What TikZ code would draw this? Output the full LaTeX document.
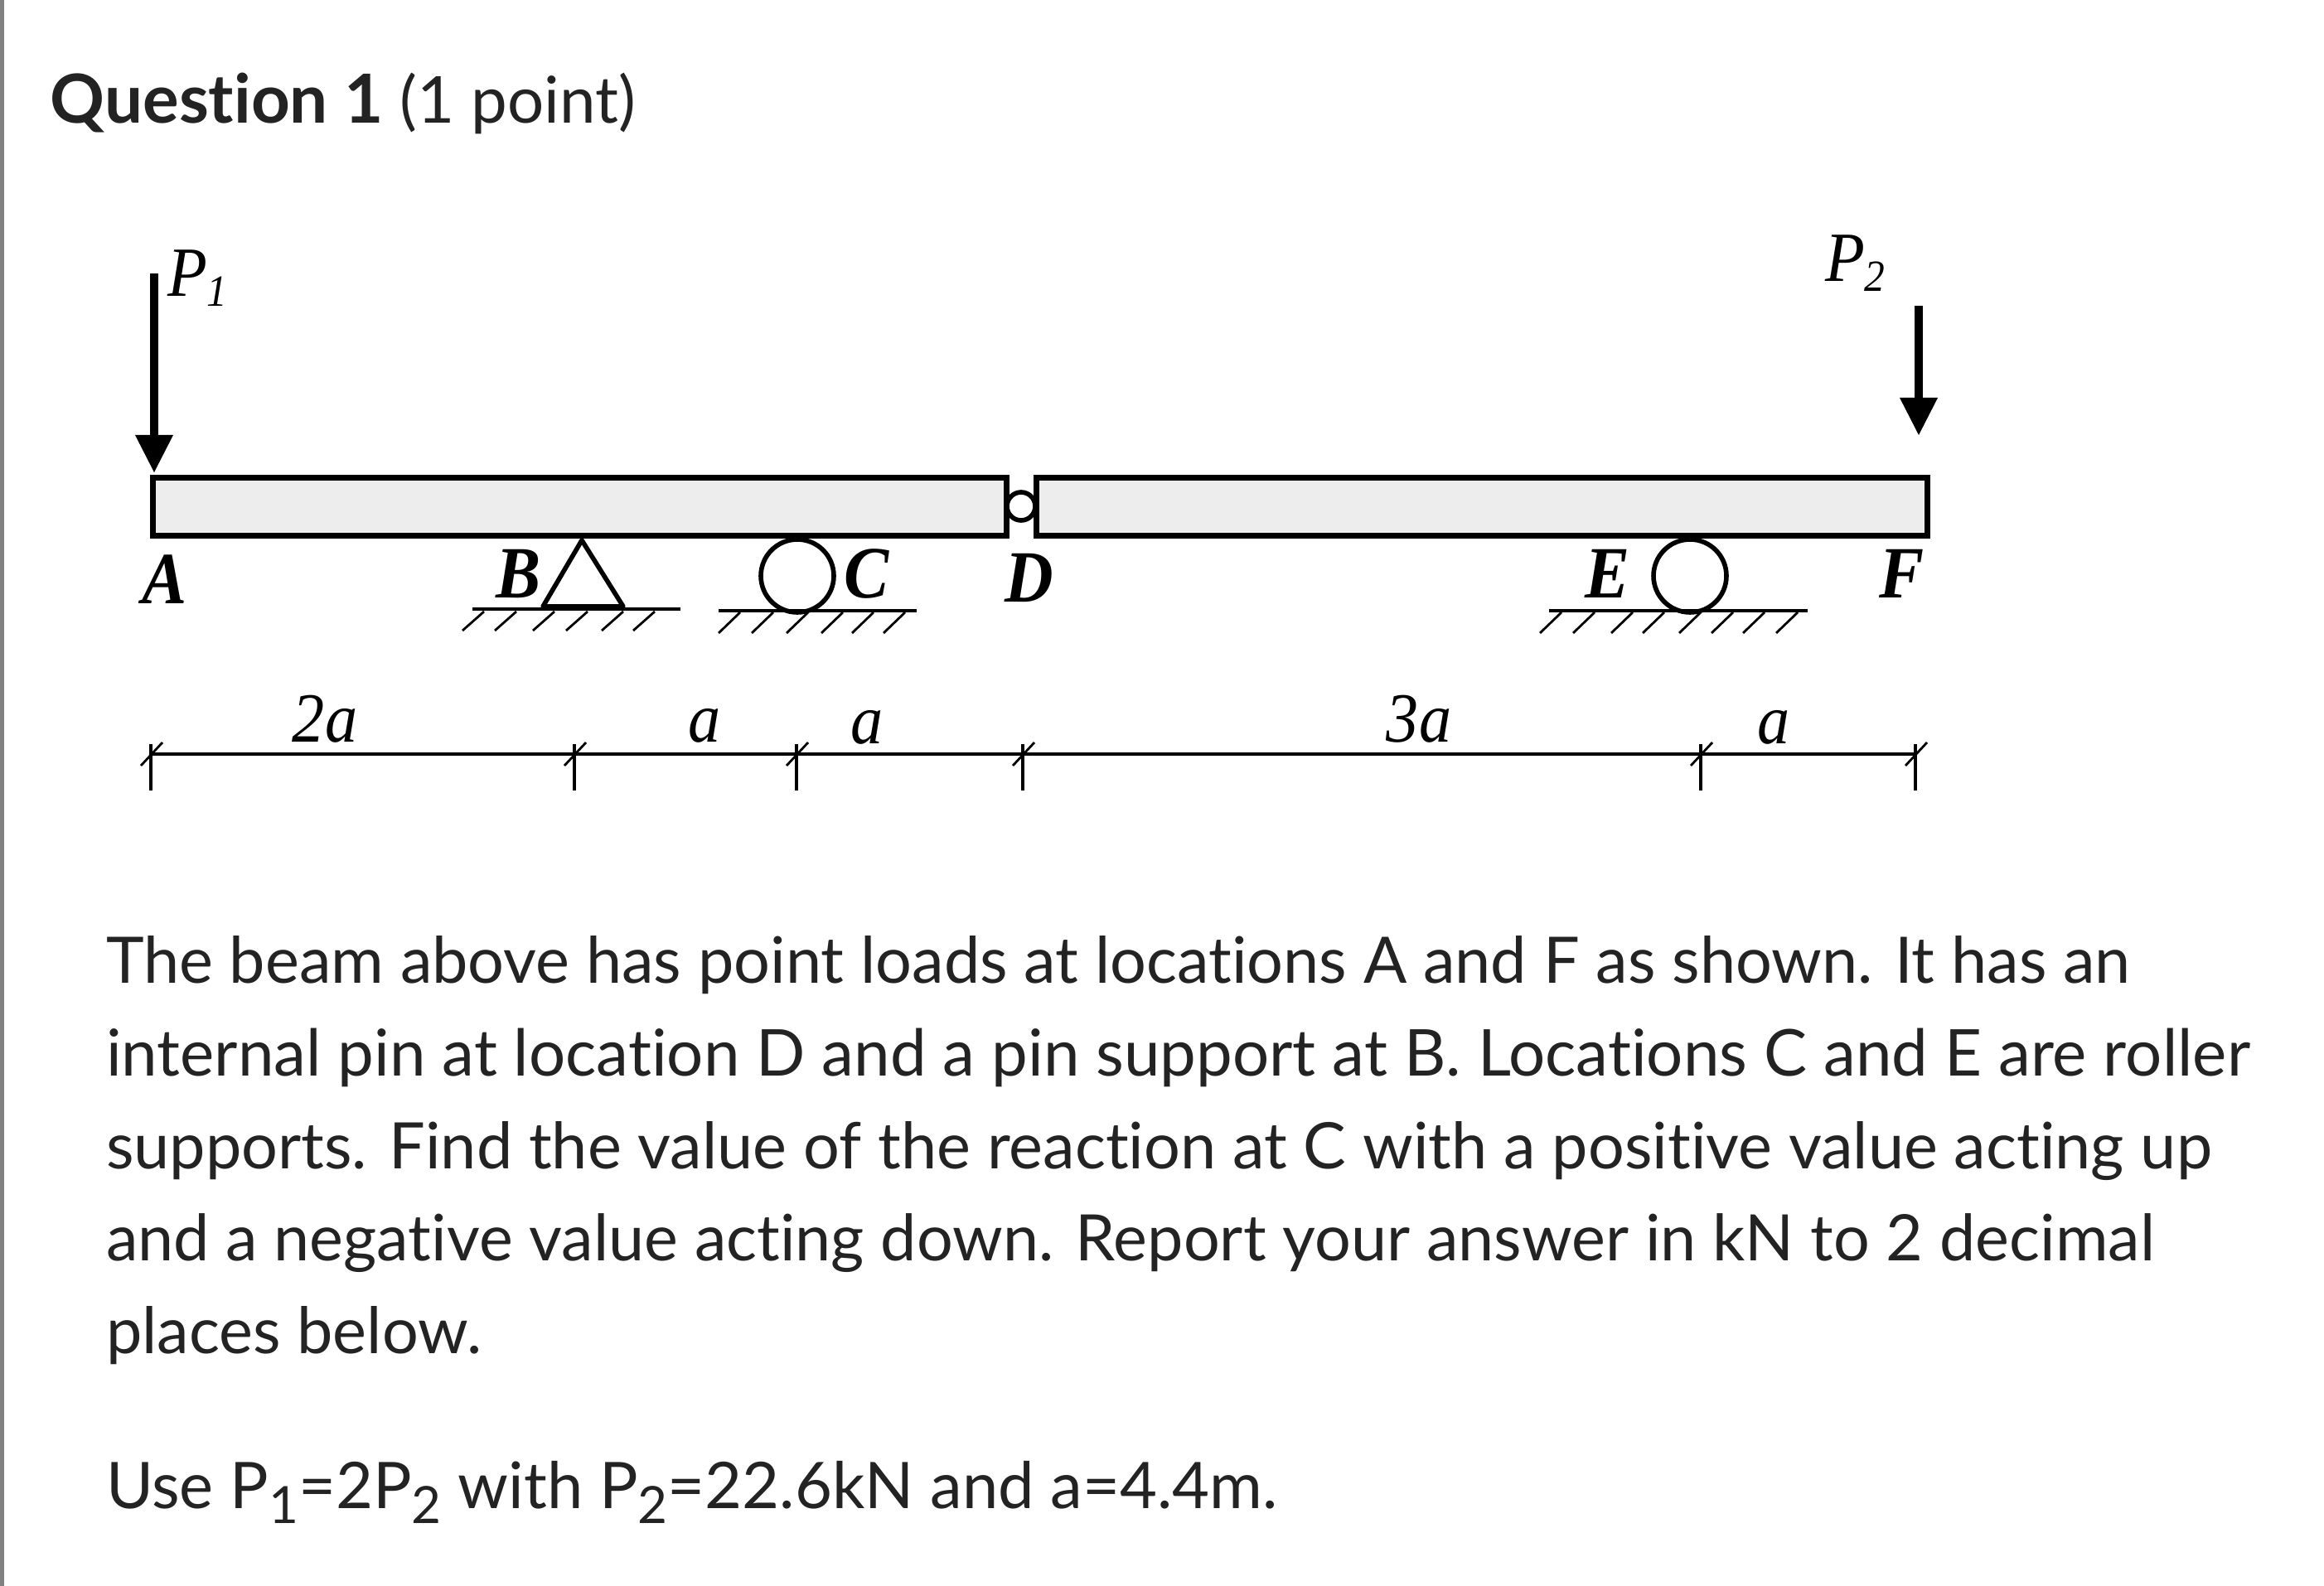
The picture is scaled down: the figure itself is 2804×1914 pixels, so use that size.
\documentclass[tikz,border=0pt]{standalone}
\usepackage{graphicx}
\usepackage{fontspec}
\setmainfont{Lato}[Ligatures=NoCommon]
\newfontfamily\figfont{Liberation Serif}
\newcommand{\tallL}[1]{\scalebox{1.04}[1.14]{#1}}
\newcommand{\tallD}[1]{\scalebox{1.03}[1.12]{#1}}
\newcommand{\subL}[1]{\raisebox{-0.24em}{\fontsize{31pt}{31pt}\selectfont #1}}
\newcommand{\subF}[1]{\raisebox{-0.14em}{\fontsize{24pt}{24pt}\selectfont #1}}
\tikzset{
  x=0.5pt,y=-0.5pt,
  txt/.style={anchor=base west,inner sep=0,outer sep=0,text=txtcol,font=\fontsize{38.7pt}{38.7pt}\selectfont},
  lab/.style={inner sep=0,outer sep=0,anchor=base,font=\figfont\bfseries\itshape\fontsize{39pt}{39pt}\selectfont},
  dimlab/.style={inner sep=0,outer sep=0,anchor=base,font=\figfont\itshape\fontsize{38pt}{38pt}\selectfont},
  beam/.style={draw=black,fill=beamfill,line width=3.5pt},
  sup/.style={draw=black,line width=2.8pt,fill=none},
  gnd/.style={draw=black,line width=1.9pt},
  hatch/.style={draw=black,line width=1.4pt},
  dimln/.style={draw=black,line width=1.8pt},
  load/.style={draw=black,line width=4.8pt},
  head/.style={fill=black,draw=none},
}
\definecolor{beamfill}{HTML}{EDEDED}
\definecolor{txtcol}{HTML}{232323}
\definecolor{edgecol}{HTML}{808080}
\begin{document}
\begin{tikzpicture}
\useasboundingbox (0,0) rectangle (2804,1914);
\fill[white] (0,0) rectangle (2804,1914);
\fill[edgecol] (0,0) rectangle (5,1914);
% beams
\draw[beam] (184,577) rectangle (1214,647);
\draw[beam] (1250,577) rectangle (2325,647);
\draw[sup] (1232,611) circle (17);
% loads
\coordinate (p1a) at (186,330); \coordinate (p1b) at (186,530);
\draw[load] (p1a) -- (p1b);
\fill[head] (163,525) -- (209,525) -- (186,570) -- cycle;
\coordinate (p2a) at (2315,369); \coordinate (p2b) at (2315,485);
\draw[load] (p2a) -- (p2b);
\fill[head] (2292,480) -- (2338,480) -- (2315,525) -- cycle;
% supports
\draw[sup,line join=round] (702,652) -- (655,732) -- (752,732) -- cycle;
\draw[gnd] (570,735) -- (821,735);
\foreach \x in {558,597,643,683,726,764} \draw[hatch] (\x,761) -- (\x+26,738);
\draw[sup] (962,695) circle (44);
\draw[gnd] (867,737) -- (1106,737);
\foreach \x in {867,907,949,991,1028,1066} \draw[hatch] (\x,764) -- (\x+26,739);
\draw[sup] (2039,695) circle (44);
\draw[gnd] (1869,737) -- (2181,737);
\foreach \x in {1858,1898,1944,1982,2026,2065,2103,2143} \draw[hatch] (\x,764) -- (\x+26,739);
% dimension
\draw[dimln] (182,910) -- (2311,910);
\foreach \x in {182,693,961,1234,2052,2311} {
  \draw[dimln] (\x,898) -- (\x,954);
  \draw[hatch] (\x-12,924) -- (\x+14,896);
}
% labels
\node[lab] (A) at (199,728) {\tallL{A}};
\node[lab] (B) at (626,721) {\tallL{B}};
\node[lab] (C) at (1046,721) {\tallL{C}};
\node[lab] (D) at (1242,726) {\tallL{D}};
\node[lab] (E) at (1940,721) {\tallL{E}};
\node[lab] (F) at (2295,721) {\tallL{F}};
\node[dimlab,anchor=base west] (P1) at (202,358) {\tallD{P\subF{1}}};
\node[dimlab,anchor=base west] (P2) at (2202,340) {\tallD{P\subF{2}}};
\node[dimlab] (d1) at (392,895) {\tallD{2a}};
\node[dimlab] (d2) at (850,895) {\tallD{a}};
\node[dimlab] (d3) at (1046,897) {\tallD{a}};
\node[dimlab] (d4) at (1712,895) {\tallD{3a}};
\node[dimlab] (d5) at (2140,897) {\tallD{a}};
% text
\node[txt] (q) at (61,149) {{\fontsize{40.8pt}{40.8pt}\selectfont\textbf{Question 1}} {\fontsize{39pt}{39pt}\selectfont (1 point)}};
\node[txt] (l1) at (128,1186) {The beam above has point loads at locations A and F as shown. It has an};
\node[txt,font=\fontsize{39pt}{39pt}\selectfont] (l2) at (128,1298) {internal pin at location D and a pin support at B. Locations C and E are roller};
\node[txt] (l3) at (128,1410) {supports. Find the value of the reaction at C with a positive value acting up};
\node[txt,font=\fontsize{38.65pt}{38.65pt}\selectfont] (l4) at (128,1521) {and a negative value acting down. Report your answer in kN to 2 decimal};
\node[txt] (l5) at (128,1633) {places below.};
\node[txt,font=\fontsize{38.8pt}{38.8pt}\selectfont] (l6) at (128,1820) {Use P\subL{1}=2P\subL{2} with P\subL{2}=22.6kN and a=4.4m.};
\end{tikzpicture}
\end{document}
